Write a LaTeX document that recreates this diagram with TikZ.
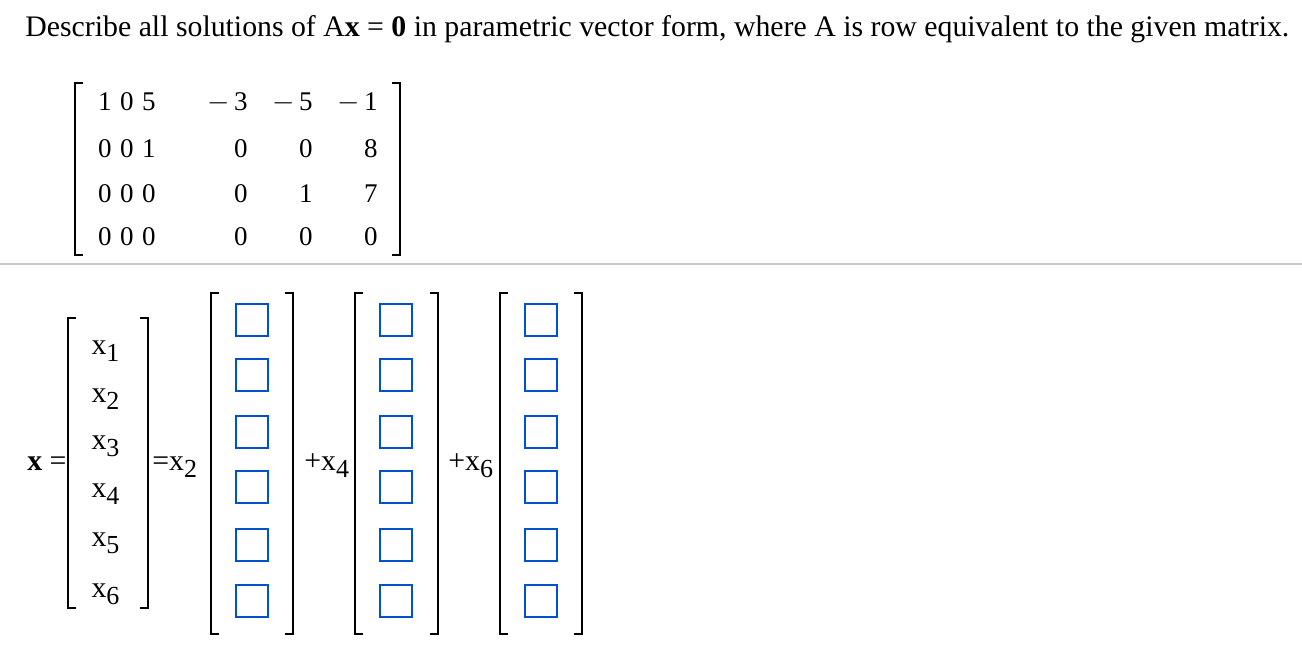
\documentclass[tikz,border=0pt]{standalone}
\usepackage{fontspec}
\setmainfont{Liberation Serif}
\begin{document}
\begin{tikzpicture}[x=0.5pt,y=-0.5pt,
  txt/.style={inner sep=0pt,font=\fontsize{14.9}{17}\selectfont},
  num/.style={inner sep=0pt,anchor=base east,font=\fontsize{13.5}{15}\selectfont},
  bx/.style={draw=blue!60!cyan!80!black,line width=0.8pt,minimum width=16pt,minimum height=16pt,inner sep=0pt},
  br/.style={line width=0.6pt}]
\useasboundingbox (0,0) rectangle (1302,658);
\node[txt,anchor=base west] (title) at (25,37) {Describe all solutions of A\textbf{x} = \textbf{0} in parametric vector form, where A is row equivalent to the given matrix.};
% matrix
\draw[br] (83,83) -- (75,83) -- (75,255) -- (83,255);
\draw[br] (392,83) -- (400,83) -- (400,255) -- (392,255);
\foreach \y/\a/\b/\c/\d/\e/\f in {111/1/0/5/$-$\,3/$-$\,5/$-$\,1,158/0/0/1/0/0/8,202/0/0/0/0/1/7,245/0/0/0/0/0/0}{
  \node[num] at (112,\y) {\a};
  \node[num] at (134,\y) {\b};
  \node[num] at (156,\y) {\c};
  \node[num] at (248,\y) {\d};
  \node[num] at (313,\y) {\e};
  \node[num] at (378,\y) {\f};
}
\draw[gray!40,line width=0.8pt] (0,264) -- (1302,264);
% x vector
\node[txt,anchor=base west] (xeq) at (27,470) {\textbf{x} =};
\draw[br] (76,318) -- (68,318) -- (68,608) -- (76,608);
\draw[br] (140,318) -- (148,318) -- (148,608) -- (140,608);
\foreach \i/\y in {1/354,2/402,3/449,4/497,5/546,6/597}{
  \node[txt,anchor=base] (v\i) at (106,\y) {x\textsubscript{\fontsize{13}{14}\selectfont\i}};
}
\node[txt,anchor=base west] (e2) at (152,470) {=x\textsubscript{\fontsize{13}{14}\selectfont 2}};
\node[txt,anchor=base west] (e4) at (304,470) {+x\textsubscript{\fontsize{13}{14}\selectfont 4}};
\node[txt,anchor=base west] (e6) at (448,470) {+x\textsubscript{\fontsize{13}{14}\selectfont 6}};
\foreach \L/\R/\c in {211/293/252,355/438/396,500/582/541}{
  \draw[br] (\L+8,293) -- (\L,293) -- (\L,634) -- (\L+8,634);
  \draw[br] (\R-8,293) -- (\R,293) -- (\R,634) -- (\R-8,634);
  \foreach \y in {320,375,432,487,545,601}{
    \node[bx] at (\c,\y) {};
  }
}
\end{tikzpicture}
\end{document}
